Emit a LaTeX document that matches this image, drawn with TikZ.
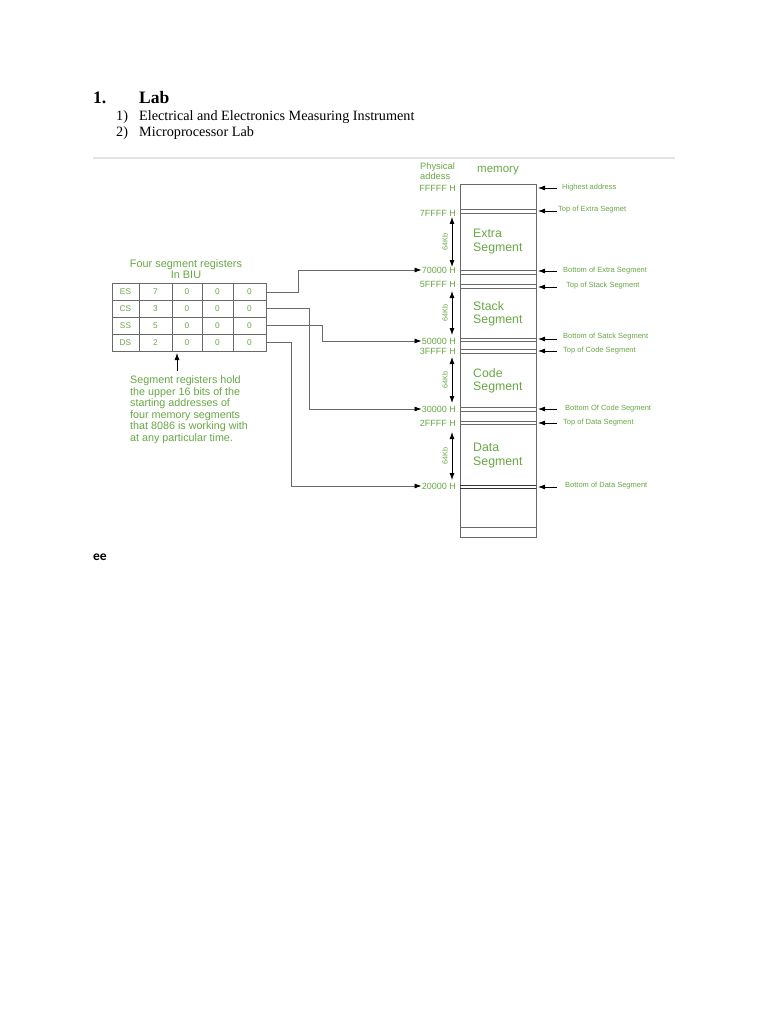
\documentclass[tikz,border=0pt]{standalone}
\usepackage{fontspec}
\setmainfont{Liberation Serif}
\setsansfont{Liberation Sans}
\newfontfamily\calib{Carlito}
\usetikzlibrary{arrows.meta}
\definecolor{grn}{RGB}{104,168,68}
\definecolor{ln}{RGB}{105,105,105}
\definecolor{rule}{RGB}{228,228,228}
\tikzset{
  fs/.style={font=\fontsize{#1}{#1}\selectfont},
  txt/.style={inner sep=0pt, anchor=base west},
  g/.style={text=grn, inner sep=0pt, font=\sffamily\fontsize{#1}{#1}\selectfont},
  addr/.style={g=9, anchor=east},
  rlab/.style={g=7.5, anchor=west},
  seg/.style={g=12.3, anchor=west, align=left},
  cell/.style={g=8.3, anchor=center},
  arr/.style={draw=black, line width=0.8pt, -{Latex[length=7pt,width=5pt]}},
  darr/.style={draw=black, line width=0.8pt, {Latex[length=7pt,width=5pt]}-{Latex[length=7pt,width=5pt]}},
  conn/.style={draw=ln, line width=0.8pt, -{Latex[length=7pt,width=5pt,color=black]}},
  mline/.style={draw=ln, line width=0.8pt},
  kb/.style={g=7.3, rotate=90, anchor=center}
}
\begin{document}
\begin{tikzpicture}[x=1pt,y=-1pt]
\useasboundingbox[fill=white] (0,0) rectangle (768,1024);
% header
\node[txt, font=\bfseries\fontsize{17.5}{17.5}\selectfont] (h1) at (93,104) {1.};
\node[txt, font=\bfseries\fontsize{17.5}{17.5}\selectfont] (hlab) at (139,104) {Lab};
\node[txt, fs=14.2] (i1n) at (116,121) {1)};
\node[txt, fs=14.2] (i1) at (139,121) {Electrical and Electronics Measuring Instrument};
\node[txt, fs=14.2] (i2n) at (116,137) {2)};
\node[txt, fs=14.2] (i2) at (139,137) {Microprocessor Lab};
\draw[rule, line width=1.2pt] (93,158) -- (675,158);
% memory header
\node[g=9.3, anchor=west, align=left] (phys) at (420,171) {Physical\\[0.6pt]addess};
\node[g=11.5, anchor=center] (memt) at (498,171) {memory};
% memory box
\node[draw=ln, line width=0.8pt, minimum width=76pt, minimum height=353pt, inner sep=0pt, anchor=north west] (mem) at (460,184) {};
\foreach \yy in {209,213,270,274,284,288,338,341.5,349,353,407,411,421,424.5,527}
  \draw[mline] (460,\yy) -- (536,\yy);
\draw[draw=black!80, line width=0.8pt] (460,485) -- (536,485);
\draw[draw=black!80, line width=0.8pt] (460,488.5) -- (536,488.5);
% address labels
\node[addr] (aF) at (456,188) {FFFFF H};
\node[addr] (a7F) at (456,213) {7FFFF H};
\node[addr] (a70) at (456,270) {70000 H};
\node[addr] (a5F) at (456,284) {5FFFF H};
\node[addr] (a50) at (456,341) {50000 H};
\node[addr] (a3F) at (456,351) {3FFFF H};
\node[addr] (a30) at (456,409) {30000 H};
\node[addr] (a2F) at (456,423) {2FFFF H};
\node[addr] (a20) at (456,486) {20000 H};
% segment names
\node[seg] (sE) at (473,241.5) {Extra\\[1pt]Segment};
\node[seg] (sS) at (473,314) {Stack\\[1pt]Segment};
\node[seg] (sC) at (473,380.5) {Code\\[1pt]Segment};
\node[seg] (sD) at (473,455.5) {Data\\[1pt]Segment};
% 64Kb arrows
\coordinate (k1a) at (452,217); \coordinate (k1b) at (452,267);
\coordinate (k2a) at (452,291); \coordinate (k2b) at (452,335);
\coordinate (k3a) at (452,357); \coordinate (k3b) at (452,403);
\coordinate (k4a) at (452,432); \coordinate (k4b) at (452,480);
\draw[darr] (k1a) -- (k1b);
\draw[darr] (k2a) -- (k2b);
\draw[darr] (k3a) -- (k3b);
\draw[darr] (k4a) -- (k4b);
\node[kb] (kb1) at (445,242) {64Kb};
\node[kb] (kb2) at (445,313) {64Kb};
\node[kb] (kb3) at (445,380) {64Kb};
\node[kb] (kb4) at (445,456) {64Kb};
% right side labels
\node[rlab] (r1) at (562,188) {Highest address};
\node[rlab] (r2) at (558,210) {Top of Extra Segmet};
\node[rlab] (r3) at (563,271) {Bottom of Extra Segment};
\node[rlab] (r4) at (566,286) {Top of Stack Segment};
\node[rlab] (r5) at (563,337) {Bottom of Satck Segment};
\node[rlab] (r6) at (563,351) {Top of Code Segment};
\node[rlab] (r7) at (565,409) {Bottom Of Code Segment};
\node[rlab] (r8) at (563,423) {Top of Data Segment};
\node[rlab] (r9) at (565,486) {Bottom of Data Segment};
\foreach \r/\yy in {r1/188,r2/211,r3/271,r4/287,r5/339,r6/351,r7/409,r8/423,r9/487}
  \draw[arr] (557,\yy) -- (538,\yy);
% register table
\node[g=10.9, anchor=center, align=center] (tt) at (186,269) {Four segment registers\\[-0.5pt]In BIU};
\node[draw=ln, line width=0.8pt, minimum width=154pt, minimum height=68pt, inner sep=0pt, anchor=north west] (tab) at (112,283) {};
\foreach \xx in {139,172,202,233} \draw[mline] (\xx,283) -- (\xx,351);
\foreach \yy in {300,317,334} \draw[mline] (112,\yy) -- (266,\yy);
\foreach \n/\yy/\a/\b in {ES/292/ES/7, CS/308.5/CS/3, SS/325.5/SS/5, DS/342.5/DS/2}{
  \node[cell] (\n a) at (125.5,\yy) {\a};
  \node[cell] (\n b) at (155.5,\yy) {\b};
  \node[cell] (\n c) at (187,\yy) {0};
  \node[cell] (\n d) at (217.5,\yy) {0};
  \node[cell] (\n e) at (249.5,\yy) {0};
  \coordinate (\n r) at (266,\yy);
}
% connectors
\draw[conn] (ESr) -- (298,292) -- (298,270) -- (a70.west);
\draw[conn] (CSr) -- (309,308.5) -- (309,409) -- (a30.west);
\draw[conn] (SSr) -- (322,325.5) -- (322,341) -- (a50.west);
\draw[conn] (DSr) -- (291,342.5) -- (291,486) -- (a20.west);
% note
\coordinate (nt) at (177,371);
\draw[arr] (nt) -- (177,353);
\node[g=10.75, anchor=north west, align=left] (note) at (130,375.5) {Segment registers hold\\[0.8pt]the upper 16 bits of the\\[0.8pt]starting addresses of\\[0.8pt]four memory segments\\[0.8pt]that 8086 is working with\\[0.8pt]at any particular time.};
% footer
\node[txt, font=\calib\bfseries\fontsize{13.5}{13.5}\selectfont] (ee) at (93,560) {ee};
\end{tikzpicture}
\end{document}
